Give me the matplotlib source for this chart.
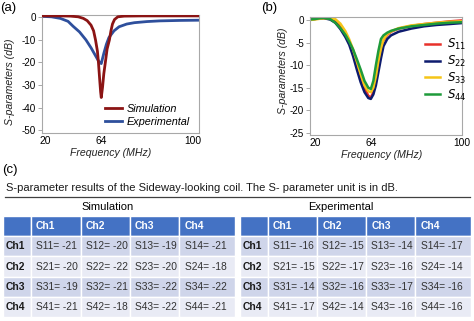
import numpy as np
import matplotlib
matplotlib.use('Agg')
import matplotlib.pyplot as plt

plt.rcParams['font.family'] = ['Liberation Sans', 'DejaVu Sans']
plt.rcParams['axes.unicode_minus'] = False

# ---------------- data ----------------
# (a) simulation vs experimental, frequency in MHz, S in dB
freq_sim = [17.4, 25, 32, 40, 46, 50, 53, 56, 58, 59.5, 61, 61.8, 62.7, 63.5, 64,
            64.5, 65, 65.6, 66.3, 67.2, 67.8, 68.4, 69.2, 70.5, 73, 80, 90, 102.4]
s_sim = [0.6, 0.6, 0.6, 0.5, 0.2, -0.5, -1.5, -3.5, -6, -10, -15, -20, -27, -33, -35.5,
         -31, -25, -20, -14, -10, -6, -3, -1, 0.2, 0.5, 0.6, 0.6, 0.6]

freq_exp = [17.4, 25, 32, 38, 42, 47, 52, 56, 59, 62, 64, 65, 66, 67, 69, 71, 74, 77,
            82, 87, 95, 102.4]
s_exp = [0.4, 0.2, -0.5, -1.8, -4, -6.5, -10, -13.5, -16.5, -19.5, -20.5, -16, -12, -9,
         -6, -4.2, -3, -2.4, -1.9, -1.6, -1.4, -1.3]

# (b) four channels
freq_b = [16.1, 22, 27, 32, 36, 40, 44, 47, 50, 53, 56, 59, 62, 64, 65, 66, 67, 68, 69,
          70.5, 72, 75, 80, 85, 90, 95, 99.6]
s11 = [0.1, 0.3, 0.4, 0.3, -0.2, -1.3, -3, -4.8, -7, -9.8, -12.5, -15, -16.8, -17.2, -16,
       -13, -9.5, -6.5, -4.5, -3.3, -2.6, -1.9, -1.3, -0.9, -0.6, -0.3, -0.1]
s22 = [0.1, 0.3, 0.4, 0.1, -0.6, -2, -3.8, -5.5, -8, -11, -13.8, -16, -17.3, -17.5, -16.5,
       -14.5, -11.5, -8.5, -5.8, -4.2, -3.4, -2.6, -1.9, -1.4, -1.1, -0.9, -0.7]
s33 = [0.0, 0.2, 0.4, 0.4, 0.2, -0.8, -2.5, -4.3, -6.5, -9.2, -12, -14.5, -15.8, -16, -15,
       -12.5, -9, -6.3, -4.3, -3.1, -2.5, -1.8, -1.2, -0.9, -0.6, -0.4, -0.3]
s44 = [0.1, 0.3, 0.5, 0.2, -0.6, -1.8, -3.3, -4.8, -6.5, -8.7, -11, -13.5, -15, -15.3, -13.5,
       -10, -6.8, -4.2, -3.4, -2.8, -2.4, -1.9, -1.4, -1.1, -0.8, -0.6, -0.5]
b_labels = ['$S_{11}$', '$S_{22}$', '$S_{33}$', '$S_{44}$']
b_colors = ['#e8312a', '#0d1b6e', '#f5c518', '#1e9b3a']

freq_ticks = [20, 64, 100]
ticks_a = [0, -10, -20, -30, -40, -50]
ticks_b = [0, -5, -10, -15, -20, -25]

# (c) tables
channels = ['Ch1', 'Ch2', 'Ch3', 'Ch4']
sim_vals = [[-21, -20, -19, -21],
            [-20, -22, -20, -18],
            [-19, -21, -22, -22],
            [-21, -18, -22, -21]]
exp_vals = [[-16, -15, -14, -17],
            [-15, -17, -16, -14],
            [-14, -16, -17, -16],
            [-17, -14, -16, -16]]
caption = 'S-parameter results of the Sideway-looking coil. The S- parameter unit is in dB.'

# ---------------- helpers ----------------
# frequency axis is stretched so that 64 MHz sits where the original put it
KF = [-200, 20, 64, 100, 300]
KU = [-1.9, 0.0, 0.38, 1.0, 1.0 + 200 * 0.62 / 36]


def fwd(x):
    return np.interp(x, KF, KU)


def inv(u):
    return np.interp(u, KU, KF)


W, H = 474, 321
fig = plt.figure(figsize=(W / 100, H / 100), dpi=100)


def ax_rect(l, t, r, b):
    return [l / W, 1 - b / H, (r - l) / W, (b - t) / H]


def style_axes(ax, xlim, ylim, yt):
    ax.set_xscale('function', functions=(fwd, inv))
    ax.set_xlim(*xlim)
    ax.set_ylim(*ylim)
    ax.set_xticks(freq_ticks)
    ax.set_xticklabels([str(t) for t in freq_ticks])
    ax.set_yticks(yt)
    ax.set_yticklabels([str(t) for t in yt])
    ax.minorticks_off()
    for s in ax.spines.values():
        s.set_color('#a8a8a8')
        s.set_linewidth(0.8)
    ax.tick_params(axis='x', length=0, pad=2.5, labelsize=7.4)
    ax.tick_params(axis='y', length=3, width=0.7, color='#a8a8a8', pad=1.2, labelsize=7.1)
    ax.set_xlabel('Frequency (MHz)', fontsize=7.6, style='italic', color='#222222')
    ax.set_ylabel('S-parameters (dB)', fontsize=7.6, style='italic', color='#222222')


# ---------------- (a) ----------------
axa = fig.add_axes(ax_rect(41.7, 15, 199, 133))
axa.plot(freq_sim, s_sim, color='#8b1414', lw=2.0, label='Simulation', zorder=3)
axa.plot(freq_exp, s_exp, color='#2e4f9c', lw=2.0, label='Experimental', zorder=2)
style_axes(axa, (17.4, 102.35), (-51.2, 1.0), ticks_a)
axa.xaxis.set_label_coords(0.437, -0.125)
axa.yaxis.set_label_coords(-0.17, 0.435)
axa.legend(loc='center left', bbox_to_anchor=(0.40, 0.15), frameon=False,
           prop={'size': 7.8, 'style': 'italic'}, handlelength=1.6,
           handletextpad=0.4, labelspacing=0.25, borderpad=0, borderaxespad=0)

# ---------------- (b) ----------------
axb = fig.add_axes(ax_rect(310, 17.3, 462, 135))
for ys, lab, c in zip([s11, s22, s33, s44], b_labels, b_colors):
    axb.plot(freq_b, ys, color=c, lw=1.8, label=lab)
style_axes(axb, (16.1, 99.6), (-25.5, 0.6), ticks_b)
axb.xaxis.set_label_coords(0.474, -0.13)
axb.yaxis.set_label_coords(-0.142, 0.544)
axb.legend(loc='center left', bbox_to_anchor=(0.757, 0.555), frameon=False,
           prop={'size': 8.5, 'style': 'italic'}, handlelength=1.3,
           handletextpad=0.55, labelspacing=0.15, borderpad=0, borderaxespad=0)

# ---------------- (c) ----------------
tax = fig.add_axes([0, 0, 1, 1])
tax.set_xlim(0, W)
tax.set_ylim(H, 0)
tax.axis('off')

fig.text(0.5 / W, 1 - 8 / H, '(a)', fontsize=9.5, va='center', ha='left')
fig.text(261 / W, 1 - 8.5 / H, '(b)', fontsize=9.5, va='center', ha='left')
tax.text(2, 170.5, '(c)', fontsize=9.5, va='center', ha='left')
tax.text(6.5, 188, caption, fontsize=8.0, va='center', ha='left', color='#1a1a1a')
tax.plot([5, 470], [196.7, 196.7], color='#404040', lw=0.9)

tax.text(108, 207, 'Simulation', fontsize=8, ha='center', va='center')
tax.text(341, 207, 'Experimental', fontsize=8, ha='center', va='center')

head_c = '#4472c4'
row_c = ['#cfd5ea', '#e9ebf5']
col_w = [28, 50, 49, 49, 56]


def draw_table(vals, l, r):
    text = [[''] + channels]
    colors = [[head_c] * 5]
    for i, row in enumerate(vals):
        text.append([channels[i]] + ['S%d%d= %d' % (i + 1, j + 1, v) for j, v in enumerate(row)])
        colors.append([row_c[i % 2]] * 5)
    t = 216.0
    b = 317.0
    tb = tax.table(cellText=text, cellColours=colors, colWidths=col_w, cellLoc='left',
                   bbox=[l / W, 1 - b / H, (r - l) / W, (b - t) / H])
    tb.auto_set_font_size(False)
    for (ri, ci), cell in tb.get_celld().items():
        cell.set_edgecolor('white')
        cell.set_linewidth(1.0)
        tx = cell.get_text()
        tx.set_fontsize(7.4)
        if ri == 0:
            tx.set_color('white')
            tx.set_fontweight('bold')
        elif ci == 0:
            tx.set_color('#1a1a1a')
            tx.set_fontweight('bold')
        else:
            tx.set_color('#333333')
    return tb


draw_table(sim_vals, 2.7, 235)
draw_table(exp_vals, 239.7, 471)

fig.savefig('out.png', dpi=100)
